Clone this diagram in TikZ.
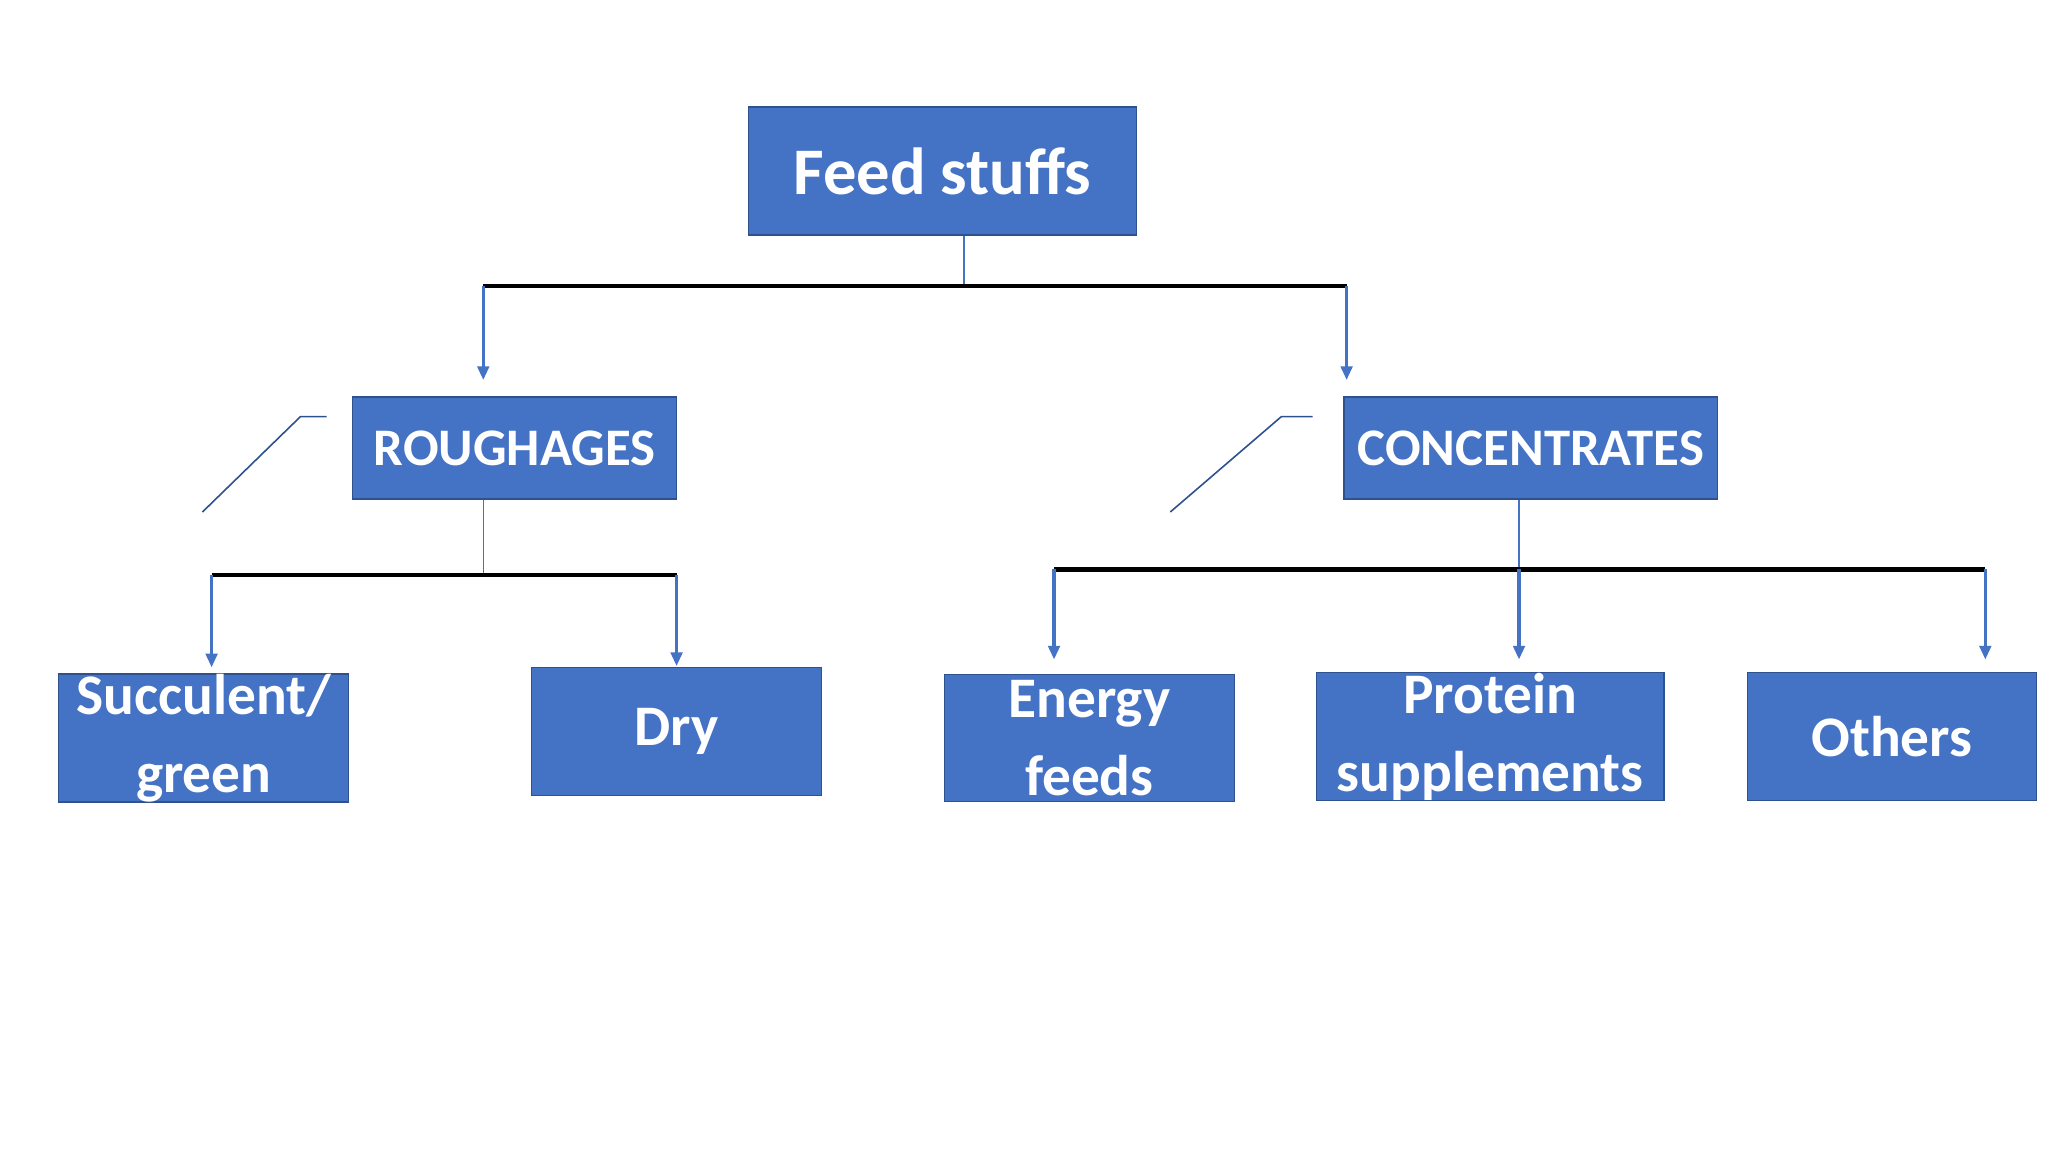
\documentclass[tikz,border=0pt]{standalone}
\usepackage{fontspec}
\setmainfont{Carlito}
\usetikzlibrary{arrows.meta}
\definecolor{boxblue}{HTML}{4472C4}
\definecolor{edgeblue}{HTML}{2F528F}
\begin{document}
\begin{tikzpicture}[x=0.02cm,y=-0.02cm,
  box/.style={draw=edgeblue,line width=0.6pt,fill=boxblue,text=white,font=\bfseries,align=center,inner sep=0pt},
  stem/.style={draw=boxblue,line width=0.5pt},
  bar/.style={draw=black,line width=1.8pt},
  arr/.style={draw=boxblue,line width=1.5pt,-{Triangle[length=6pt,width=5pt]}},
  slash/.style={draw=edgeblue,line width=0.7pt}]
\useasboundingbox (0,0) rectangle (1568,882);
\node[box,minimum width=297*0.02cm,minimum height=98*0.02cm,font=\bfseries\fontsize{29}{33}\selectfont] (feed) at (721.5,131) {Feed stuffs};
\node[box,minimum width=248*0.02cm,minimum height=78*0.02cm,font=\bfseries\fontsize{23}{27}\selectfont] (rough) at (394,343) {ROUGHAGES};
\node[box,minimum width=286*0.02cm,minimum height=78*0.02cm,font=\bfseries\fontsize{23}{27}\selectfont] (conc) at (1172,343) {CONCENTRATES};
\tikzset{leaf/.style={box,font=\bfseries\fontsize{25}{34}\selectfont}}
\node[leaf,minimum width=222*0.02cm,minimum height=97*0.02cm] (succ) at (156,565) {Succulent/\\green};
\node[leaf,minimum width=222*0.02cm,minimum height=98*0.02cm] (dry) at (518,560) {Dry};
\node[leaf,minimum width=222*0.02cm,minimum height=97*0.02cm] (energy) at (834,565) {Energy\\feeds};
\node[leaf,minimum width=266*0.02cm,minimum height=98*0.02cm] (prot) at (1141,564) {Protein\\supplements};
\node[leaf,minimum width=221*0.02cm,minimum height=98*0.02cm] (oth) at (1448.5,564) {Others};
% level 1
\coordinate (j1) at (738,219);
\coordinate (l1) at (370,219);
\coordinate (r1) at (1031,219);
\coordinate (a1) at (370,291);
\coordinate (b1) at (1031,291);
\draw[stem] (feed.south -| j1) -- (j1);
\draw[bar] (l1) -- (r1);
\draw[arr] (l1) -- (a1);
\draw[arr] (r1) -- (b1);
% roughages
\coordinate (j2) at (370,440);
\coordinate (l2) at (162,440);
\coordinate (r2) at (518,440);
\draw[stem] (rough.south -| j2) -- (j2);
\draw[bar] (l2) -- (r2);
\coordinate (a2) at (162,511);
\coordinate (b2) at (518,510);
\draw[arr] (l2) -- (a2);
\draw[arr] (r2) -- (b2);
% concentrates
\coordinate (j3) at (1163,436);
\coordinate (l3) at (807,436);
\coordinate (r3) at (1520,436);
\draw[stem] (conc.south -| j3) -- (j3);
\draw[bar] (l3) -- (r3);
\coordinate (a3) at (807,505);
\coordinate (b3) at (1163,505);
\coordinate (c3) at (1520,505);
\draw[arr] (l3) -- (a3);
\draw[arr] (j3) -- (b3);
\draw[arr] (r3) -- (c3);
% slashes
\coordinate (s1a) at (155,392); \coordinate (s1b) at (230,319); \coordinate (s1c) at (250,319);
\coordinate (s2a) at (896,392); \coordinate (s2b) at (981,319); \coordinate (s2c) at (1005,319);
\draw[slash] (s1a) -- (s1b) -- (s1c);
\draw[slash] (s2a) -- (s2b) -- (s2c);
\end{tikzpicture}
\end{document}
